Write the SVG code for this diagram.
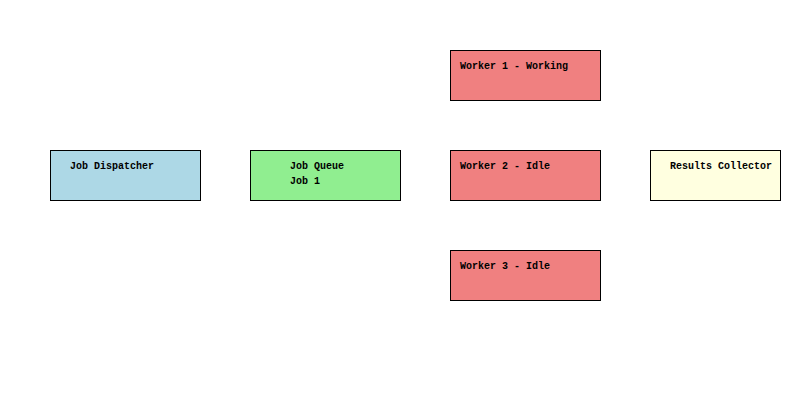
<svg xmlns="http://www.w3.org/2000/svg" width="800" height="400" viewBox="0 0 800 400">
<style>
rect.n{stroke:#000;stroke-width:1}
text{font-family:"Liberation Mono","DejaVu Sans Mono",monospace;font-weight:bold;font-size:10px;fill:#000}
</style>
<rect width="800" height="400" fill="#fff"/>
<g id="connectors"></g>
<g id="dispatcher"><rect class="n" x="50.5" y="150.5" width="150" height="50" fill="#ADD8E6"/><text x="70" y="169">Job Dispatcher</text></g>
<g id="queue"><rect class="n" x="250.5" y="150.5" width="150" height="50" fill="#90EE90"/><text x="290" y="169">Job Queue</text><text x="290" y="184">Job 1</text></g>
<g id="worker1"><rect class="n" x="450.5" y="50.5" width="150" height="50" fill="#F08080"/><text x="460" y="69">Worker 1 - Working</text></g>
<g id="worker2"><rect class="n" x="450.5" y="150.5" width="150" height="50" fill="#F08080"/><text x="460" y="169">Worker 2 - Idle</text></g>
<g id="worker3"><rect class="n" x="450.5" y="250.5" width="150" height="50" fill="#F08080"/><text x="460" y="269">Worker 3 - Idle</text></g>
<g id="collector"><rect class="n" x="650.5" y="150.5" width="130" height="50" fill="#FFFFE0"/><text x="670" y="169">Results Collector</text></g>
</svg>
